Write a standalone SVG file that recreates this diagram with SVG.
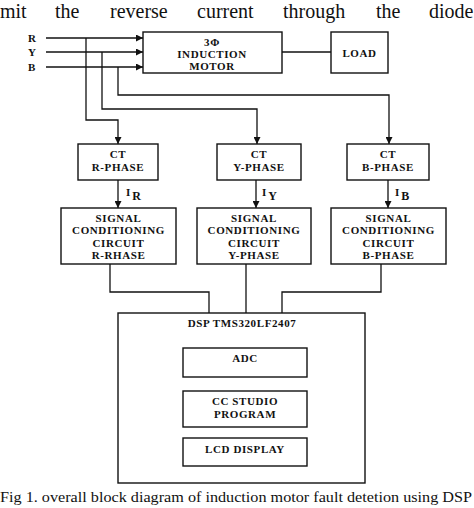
<svg xmlns="http://www.w3.org/2000/svg" width="474" height="508" viewBox="0 0 474 508">
<style>
.box{fill:#fff;stroke:#111;stroke-width:1.4}
.ln{fill:none;stroke:#111;stroke-width:1.3}
.t{font-family:"Liberation Serif","Times New Roman",serif;font-weight:bold;font-size:11px;letter-spacing:0.6px;fill:#111;text-anchor:middle}
.lbl{font-family:"Liberation Serif","Times New Roman",serif;font-weight:bold;font-size:11px;fill:#111}
.body{font-family:"Liberation Serif","Times New Roman",serif;font-size:20px;fill:#111}
.cap{font-family:"Liberation Serif","Times New Roman",serif;font-size:15.5px;fill:#111}
</style>
<defs>
<marker id="ah" viewBox="0 0 8 8" refX="8" refY="4" markerWidth="7" markerHeight="7" markerUnits="userSpaceOnUse" orient="auto">
<path d="M0,0 L8,4 L0,8 Z" fill="#111"/>
</marker>
</defs>
<g id="body-text">
<text class="body" x="0" y="18">mit</text>
<text class="body" x="55" y="18">the</text>
<text class="body" x="110" y="18">reverse</text>
<text class="body" x="197" y="18">current</text>
<text class="body" x="283" y="18">through</text>
<text class="body" x="376" y="18">the</text>
<text class="body" x="429" y="18">diode</text>
</g>
<g id="connectors">
<path class="ln" d="M46,38 H143" marker-end="url(#ah)"/>
<path class="ln" d="M46,52 H143" marker-end="url(#ah)"/>
<path class="ln" d="M46,67 H143" marker-end="url(#ah)"/>
<path class="ln" d="M282,52 H331"/>
<path class="ln" d="M86,38 V120 H118 V144" marker-end="url(#ah)"/>
<path class="ln" d="M102,52 V109 H257 V144" marker-end="url(#ah)"/>
<path class="ln" d="M118,67 V95 H389 V144" marker-end="url(#ah)"/>
<path class="ln" d="M118,180 V208" marker-end="url(#ah)"/>
<path class="ln" d="M256,180 V208" marker-end="url(#ah)"/>
<path class="ln" d="M388,180 V208" marker-end="url(#ah)"/>
<path class="ln" d="M110,264 V292 H209 V313"/>
<path class="ln" d="M246,264 V313"/>
<path class="ln" d="M381,264 V292 H282 V313"/>
<path class="ln" d="M209,335 V348" marker-end="url(#ah)"/>
<path class="ln" d="M245,335 V348" marker-end="url(#ah)"/>
<path class="ln" d="M282,335 V348" marker-end="url(#ah)"/>
<path class="ln" d="M242,377 V391" marker-end="url(#ah)"/>
<path class="ln" d="M242,427 V438" marker-end="url(#ah)"/>
</g>
<g id="phase-labels">
<text class="lbl" x="28" y="42">R</text>
<text class="lbl" x="28" y="56">Y</text>
<text class="lbl" x="28" y="71">B</text>
</g>
<g id="current-labels">
<text class="lbl" x="126" y="196">I<tspan dx="2" dy="4" font-size="12">R</tspan></text>
<text class="lbl" x="262" y="196">I<tspan dx="2" dy="4" font-size="12">Y</tspan></text>
<text class="lbl" x="395" y="196">I<tspan dx="2" dy="4" font-size="12">B</tspan></text>
</g>
<g id="motor">
<rect class="box" x="143" y="32" width="139" height="41"/>
<text class="t" x="212" y="45.5">3Φ</text>
<text class="t" x="212" y="57.5">INDUCTION</text>
<text class="t" x="212" y="69.5">MOTOR</text>
</g>
<g id="load">
<rect class="box" x="331" y="32" width="57" height="41"/>
<text class="t" x="359.5" y="57">LOAD</text>
</g>
<g id="ct-r">
<rect class="box" x="78" y="144" width="80" height="36"/>
<text class="t" x="118" y="158">CT</text>
<text class="t" x="118" y="171">R-PHASE</text>
</g>
<g id="ct-y">
<rect class="box" x="217" y="144" width="84" height="36"/>
<text class="t" x="259" y="158">CT</text>
<text class="t" x="259" y="171">Y-PHASE</text>
</g>
<g id="ct-b">
<rect class="box" x="347" y="144" width="82" height="36"/>
<text class="t" x="388" y="158">CT</text>
<text class="t" x="388" y="171">B-PHASE</text>
</g>
<g id="sc-r">
<rect class="box" x="61" y="208" width="115" height="56"/>
<text class="t" x="118.5" y="222">SIGNAL</text>
<text class="t" x="118.5" y="234">CONDITIONING</text>
<text class="t" x="118.5" y="247">CIRCUIT</text>
<text class="t" x="118.5" y="259">R-RHASE</text>
</g>
<g id="sc-y">
<rect class="box" x="197" y="208" width="114" height="56"/>
<text class="t" x="254" y="222">SIGNAL</text>
<text class="t" x="254" y="234">CONDITIONING</text>
<text class="t" x="254" y="247">CIRCUIT</text>
<text class="t" x="254" y="259">Y-PHASE</text>
</g>
<g id="sc-b">
<rect class="box" x="331" y="208" width="115" height="56"/>
<text class="t" x="388.5" y="222">SIGNAL</text>
<text class="t" x="388.5" y="234">CONDITIONING</text>
<text class="t" x="388.5" y="247">CIRCUIT</text>
<text class="t" x="388.5" y="259">B-PHASE</text>
</g>
<g id="dsp">
<rect class="box" x="118" y="313" width="247" height="170"/>
<text class="t" x="242" y="327">DSP TMS320LF2407</text>
</g>
<g id="adc">
<rect class="box" x="183" y="348" width="124" height="29"/>
<text class="t" x="245" y="362">ADC</text>
</g>
<g id="ccs">
<rect class="box" x="183" y="391" width="124" height="36"/>
<text class="t" x="245" y="405">CC STUDIO</text>
<text class="t" x="245" y="418">PROGRAM</text>
</g>
<g id="lcd">
<rect class="box" x="183" y="438" width="124" height="28"/>
<text class="t" x="245" y="453">LCD DISPLAY</text>
</g>
<g id="caption">
<text class="cap" x="0" y="502" textLength="472" lengthAdjust="spacingAndGlyphs">Fig 1. overall block diagram of induction motor fault detetion using DSP</text>
</g>
</svg>
